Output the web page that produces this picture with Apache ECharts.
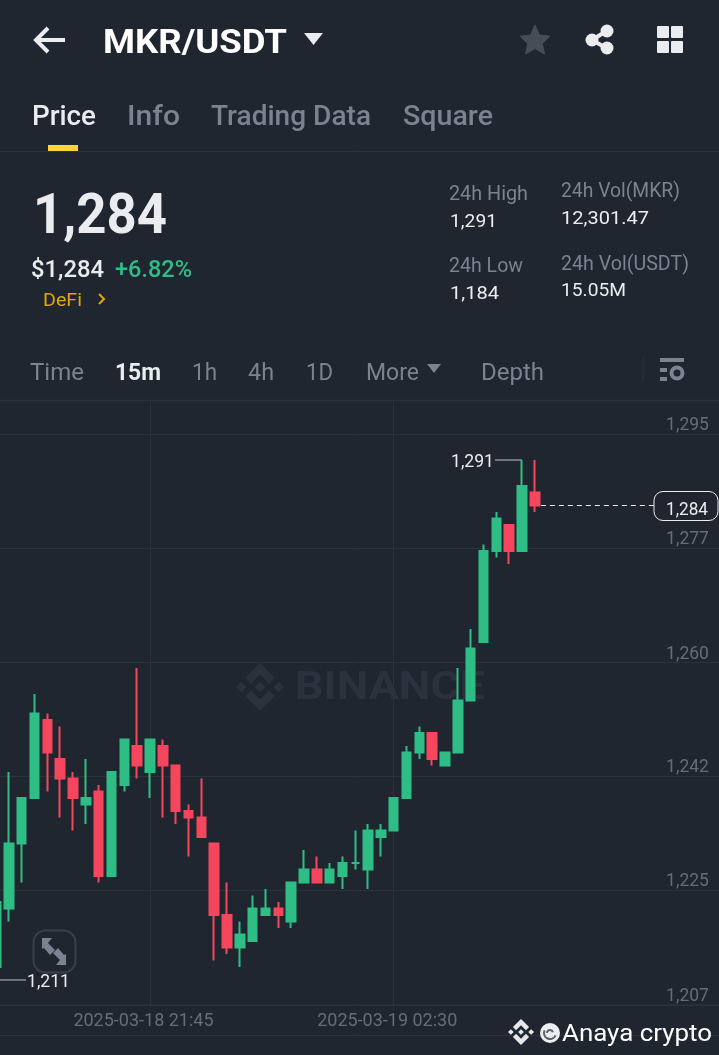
<!DOCTYPE html>
<html><head><meta charset="utf-8">
<style>html,body{margin:0;padding:0;background:#1f2630}#c{width:719px;height:1055px}</style>
<script src="https://cdn.jsdelivr.net/npm/echarts@6/dist/echarts.min.js"></script>
</head><body><div id="c"></div>
<script>
const categories=["2025-03-18 18:45","2025-03-18 19:00","2025-03-18 19:15","2025-03-18 19:30","2025-03-18 19:45","2025-03-18 20:00","2025-03-18 20:15","2025-03-18 20:30","2025-03-18 20:45","2025-03-18 21:00","2025-03-18 21:15","2025-03-18 21:30","2025-03-18 21:45","2025-03-18 22:00","2025-03-18 22:15","2025-03-18 22:30","2025-03-18 22:45","2025-03-18 23:00","2025-03-18 23:15","2025-03-18 23:30","2025-03-18 23:45","2025-03-19 00:00","2025-03-19 00:15","2025-03-19 00:30","2025-03-19 00:45","2025-03-19 01:00","2025-03-19 01:15","2025-03-19 01:30","2025-03-19 01:45","2025-03-19 02:00","2025-03-19 02:15","2025-03-19 02:30","2025-03-19 02:45","2025-03-19 03:00","2025-03-19 03:15","2025-03-19 03:30","2025-03-19 03:45","2025-03-19 04:00","2025-03-19 04:15","2025-03-19 04:30","2025-03-19 04:45","2025-03-19 05:00","2025-03-19 05:15","2025-03-19 05:30","2025-03-19 05:45","2025-03-19 06:00","2025-03-19 06:15","2025-03-19 06:30","2025-03-19 06:45","2025-03-19 07:00","2025-03-19 07:15","2025-03-19 07:30","2025-03-19 07:45","2025-03-19 08:00","2025-03-19 08:15","2025-03-19 08:30","2025-03-19 08:45"];
const opens =[1213,1222,1232,1239,1251,1245,1242,1238,1240,1227,1241,1247,1243,1247,1244,1237,1236,1232,1221,1216,1217,1221,1222,1220,1226,1228,1226,1227,1229,1228,1233,1234,1239,1246,1249,1244,1246,1254,1263,1277,1281,1277,1286];
const closes=[1223,1232,1239,1252,1246,1242,1239,1239,1227,1243,1248,1244,1248,1244,1237,1236,1233,1221,1216,1218,1222,1222,1221,1226,1228,1226,1228,1229,1229,1234,1234,1239,1246,1249,1245,1246,1254,1262,1277,1282,1277,1287,1284];
const lows  =[1211,1220,1226,1239,1240,1236,1234,1235,1226,1227,1240,1242,1239,1236,1235,1230,1233,1214,1215,1213,1217,1221,1219,1219,1226,1226,1226,1225,1228,1225,1230,1234,1239,1245,1244,1244,1246,1254,1263,1276,1275,1277,1283];
const highs =[1225,1243,1239,1255,1252,1250,1243,1245,1241,1243,1248,1259,1248,1248,1244,1238,1242,1232,1226,1220,1224,1225,1223,1226,1231,1230,1229,1230,1234,1235,1235,1239,1247,1250,1249,1246,1259,1265,1278,1283,1281,1291,1291];
const priceTicks=[1207.15,1224.85,1242.4,1259.9,1277.46,1295];
const dateLabels=["2025-03-18 21:45","2025-03-19 02:30"];

const BG='#1f2630',LINE='#2c323c',GREEN='#2ebd85',RED='#f6465d',WHITE='#eaecef',GRAY='#7b8390',DIM='#666d79';
const FONT='Roboto, "Noto Sans", sans-serif';
const candles=opens.map((o,i)=>[o,closes[i],lows[i],highs[i]]);
const fmt=v=>Math.round(v).toLocaleString('en-US');
const mc=document.createElement('canvas').getContext('2d');
function txt(s,x1,x2,yc,size,color,weight,z){
  const w=weight||400;
  mc.font=w+' '+size+'px '+FONT;
  const sx=(x2-x1)/mc.measureText(s).width;
  return {type:'text',x:x1,y:yc+1+size*.08,scaleX:sx,z:z||20,silent:true,
    style:{text:s,fill:color,font:w+' '+size+'px '+FONT,textAlign:'left',textVerticalAlign:'middle'}};
}
function rect(x,y,w,h,fill,r){return {type:'rect',z:20,silent:true,shape:{x,y,width:w,height:h,r:r||0},style:{fill}};}
function line(x1,y1,x2,y2,stroke,lw,dash,z){return {type:'line',z:z||20,silent:true,shape:{x1,y1,x2,y2},style:{stroke,lineWidth:lw||1,lineDash:dash||null}};}
function poly(points,fill,z){return {type:'polygon',z:z||20,silent:true,shape:{points},style:{fill}};}
function logo(cx,cy,s,fill,z){
  const d=(x,y,r)=>poly([[cx+x*s,cy+(y-r)*s],[cx+(x+r)*s,cy+y*s],[cx+x*s,cy+(y+r)*s],[cx+(x-r)*s,cy+y*s]],fill,z);
  const chev=(pts)=>poly(pts.map(p=>[cx+p[0]*s,cy+p[1]*s]),fill,z);
  return [d(0,0,.22),d(-.78,0,.22),d(.78,0,.22),
    chev([[0,-1],[.62,-.38],[.38,-.14],[0,-.52],[-.38,-.14],[-.62,-.38]]),
    chev([[0,1],[.62,.38],[.38,.14],[0,.52],[-.38,.14],[-.62,.38]])];
}
const chrome=[
  // header
  {type:'polyline',z:20,silent:true,shape:{points:[[48,28],[36,40],[48,52]]},style:{stroke:WHITE,lineWidth:4,fill:null}},
  line(37,40,65,40,WHITE,4),
  txt('MKR/USDT',103,287,41,34,'#ffffff',700),
  poly([[304,33],[323,33],[313.5,45]],WHITE),
  {type:'polygon',z:20,silent:true,shape:{points:[[535,25],[539.5,35],[550,36.2],[542.3,43.4],[544.5,54],[535,48.6],[525.5,54],[527.7,43.4],[520,36.2],[530.5,35]]},style:{fill:'#474d57',stroke:'#474d57',lineWidth:1,lineJoin:'round'}},
  line(592,40,608,30,WHITE,4),line(592,40,608,49,WHITE,4),
  {type:'circle',z:20,silent:true,shape:{cx:592,cy:40,r:6.5},style:{fill:WHITE}},
  {type:'circle',z:20,silent:true,shape:{cx:607,cy:31,r:6.5},style:{fill:WHITE}},
  {type:'circle',z:20,silent:true,shape:{cx:607,cy:48,r:6.5},style:{fill:WHITE}},
  rect(657,26,12,12,WHITE,1),rect(671,26,12,12,WHITE,1),rect(657,41,12,12,WHITE,1),rect(671,41,12,12,WHITE,1),
  // tabs
  txt('Price',32,96,115,28,WHITE,500),
  txt('Info',127,180,115,28,GRAY,500),
  txt('Trading Data',211,371,115,28,GRAY,500),
  txt('Square',403,493,115,28,GRAY,500),
  rect(48,145,30,6,'#fcd535'),
  line(0,151.5,719,151.5,LINE,1),
  // price block
  txt('1,284',33,167,214,56,WHITE,700),
  txt('$1,284',31,104,268,24,WHITE,500),
  txt('+6.82%',115,192,268,24,GREEN,500),
  txt('DeFi',43,82,299,19,'#e0a800',400),
  {type:'polyline',z:20,silent:true,shape:{points:[[99,294],[104,299],[99,304]]},style:{stroke:'#e0a800',lineWidth:2,fill:null}},
  txt('24h High',449,528,192,20,GRAY),
  txt('1,291',450,497,220,19,WHITE),
  txt('24h Vol(MKR)',561,680,189,20,GRAY),
  txt('12,301.47',561,649,217,19,WHITE),
  txt('24h Low',449,523,264,20,GRAY),
  txt('1,184',450,499,292,19,WHITE),
  txt('24h Vol(USDT)',561,689,262,20,GRAY),
  txt('15.05M',561,626,289,19,WHITE),
  // period bar
  txt('Time',30,84,371,24,GRAY),
  txt('15m',115,161,371,24,WHITE,700),
  txt('1h',192,217,371,24,GRAY),
  txt('4h',248,274,371,24,GRAY),
  txt('1D',306,333,371,24,GRAY),
  txt('More',366,419,371,24,GRAY),
  poly([[427,364],[441,364],[434,373]],GRAY),
  txt('Depth',481,544,371,24,GRAY),
  line(643,358,643,382,LINE,1),
  rect(660,358,24,4,GRAY),rect(660,368,7,4,GRAY),rect(660,377,7,4,GRAY),
  {type:'circle',z:20,silent:true,shape:{cx:677,cy:373,r:5.5},style:{fill:'none',stroke:GRAY,lineWidth:4}},
  line(0,400.5,719,400.5,LINE,1.5),
  line(0,1035.5,719,1035.5,LINE,1),
  // watermark
  ...logo(260,687,24,'#2b323d',1),
  txt('BINANCE',295,485,685,38,'#2b323d',700,1),
  // expand button
  {type:'rect',z:20,silent:true,shape:{x:33.5,y:930.5,width:42,height:42,r:12},style:{fill:BG,stroke:'#3a404b',lineWidth:2}},
  poly([[42,938],[52,938],[48,943],[55,950],[50,955],[44,948],[42,949]],GRAY),
  poly([[66,965],[56,965],[60,960],[53,953],[58,948],[64,955],[66,954]],GRAY),
  // corner signature
  ...logo(521,1032,13,'#e6e8ea',25),
  {type:'circle',z:25,silent:true,shape:{cx:550,cy:1033,r:10},style:{fill:'#eceef0'}},
  {type:'arc',z:25,silent:true,shape:{cx:550,cy:1033,r:6,startAngle:0.4,endAngle:3.6},style:{stroke:'#5d636b',lineWidth:2,fill:null}},
  {type:'arc',z:25,silent:true,shape:{cx:550,cy:1033,r:3,startAngle:3.2,endAngle:6},style:{stroke:'#5d636b',lineWidth:2,fill:null}},
  txt('Anaya crypto',562,712,1032,24,'#ffffff',400,25)
];
const chart=echarts.init(document.getElementById('c'));
chart.setOption({
  animation:false,backgroundColor:BG,
  grid:{left:-10.4,top:401,width:731.3,height:604,containLabel:false,outerBoundsMode:'none'},
  xAxis:{type:'category',data:categories,boundaryGap:true,
    axisLine:{show:true,lineStyle:{color:LINE,width:1.5}},axisTick:{show:false},
    axisLabel:{color:DIM,fontFamily:FONT,fontSize:18,margin:7,padding:[0,13,0,0],hideOverlap:false,
      interval:(i,v)=>dateLabels.includes(v)},
    splitLine:{show:true,alignWithLabel:true,lineStyle:{color:LINE,width:1},interval:(i,v)=>dateLabels.includes(v)}},
  yAxis:{type:'value',position:'right',min:1207.15,max:1300.08,scale:true,
    axisLine:{show:false},axisTick:{show:false,customValues:priceTicks},
    axisLabel:{inside:true,margin:12,color:DIM,fontFamily:FONT,fontSize:17.5,verticalAlign:'bottom',padding:[0,0,-1,0],
      customValues:priceTicks,formatter:fmt},
    splitLine:{show:true,lineStyle:{color:LINE,width:1}}},
  series:[{type:'candlestick',data:candles,barWidth:9,z:5,
    itemStyle:{color:GREEN,color0:RED,borderColor:GREEN,borderColor0:RED,borderWidth:2}}],
  graphic:{elements:chrome}
});
// annotations anchored to the data through the chart's scales
const last=candles.length-1;
const hi=Math.max(...highs),hiI=highs.indexOf(hi),lo=Math.min(...lows),loI=lows.indexOf(lo);
const px=(i,v)=>chart.convertToPixel({seriesIndex:0},[i,v]);
const pH=px(hiI,hi),pL=px(loI,lo),pC=px(last,closes[last]);
const notes=[
  line(495,pH[1],pH[0],pH[1],'#8a909a',1.5),
  txt(fmt(hi),451,494,pH[1],18,WHITE),
  line(0,pL[1],26,pL[1],'#8a909a',1.5),
  txt(fmt(lo),27,70,pL[1],18,WHITE),
  line(pC[0]+6,pC[1],654,pC[1],WHITE,1,[5,4]),
  {type:'rect',z:21,silent:true,shape:{x:654,y:491.5,width:64,height:29,r:9},style:{fill:BG,stroke:WHITE,lineWidth:1}},
  txt(fmt(closes[last]),666,708,508,18,WHITE,400,22)
];
chart.setOption({graphic:{elements:chrome.concat(notes)}});
</script></body></html>
